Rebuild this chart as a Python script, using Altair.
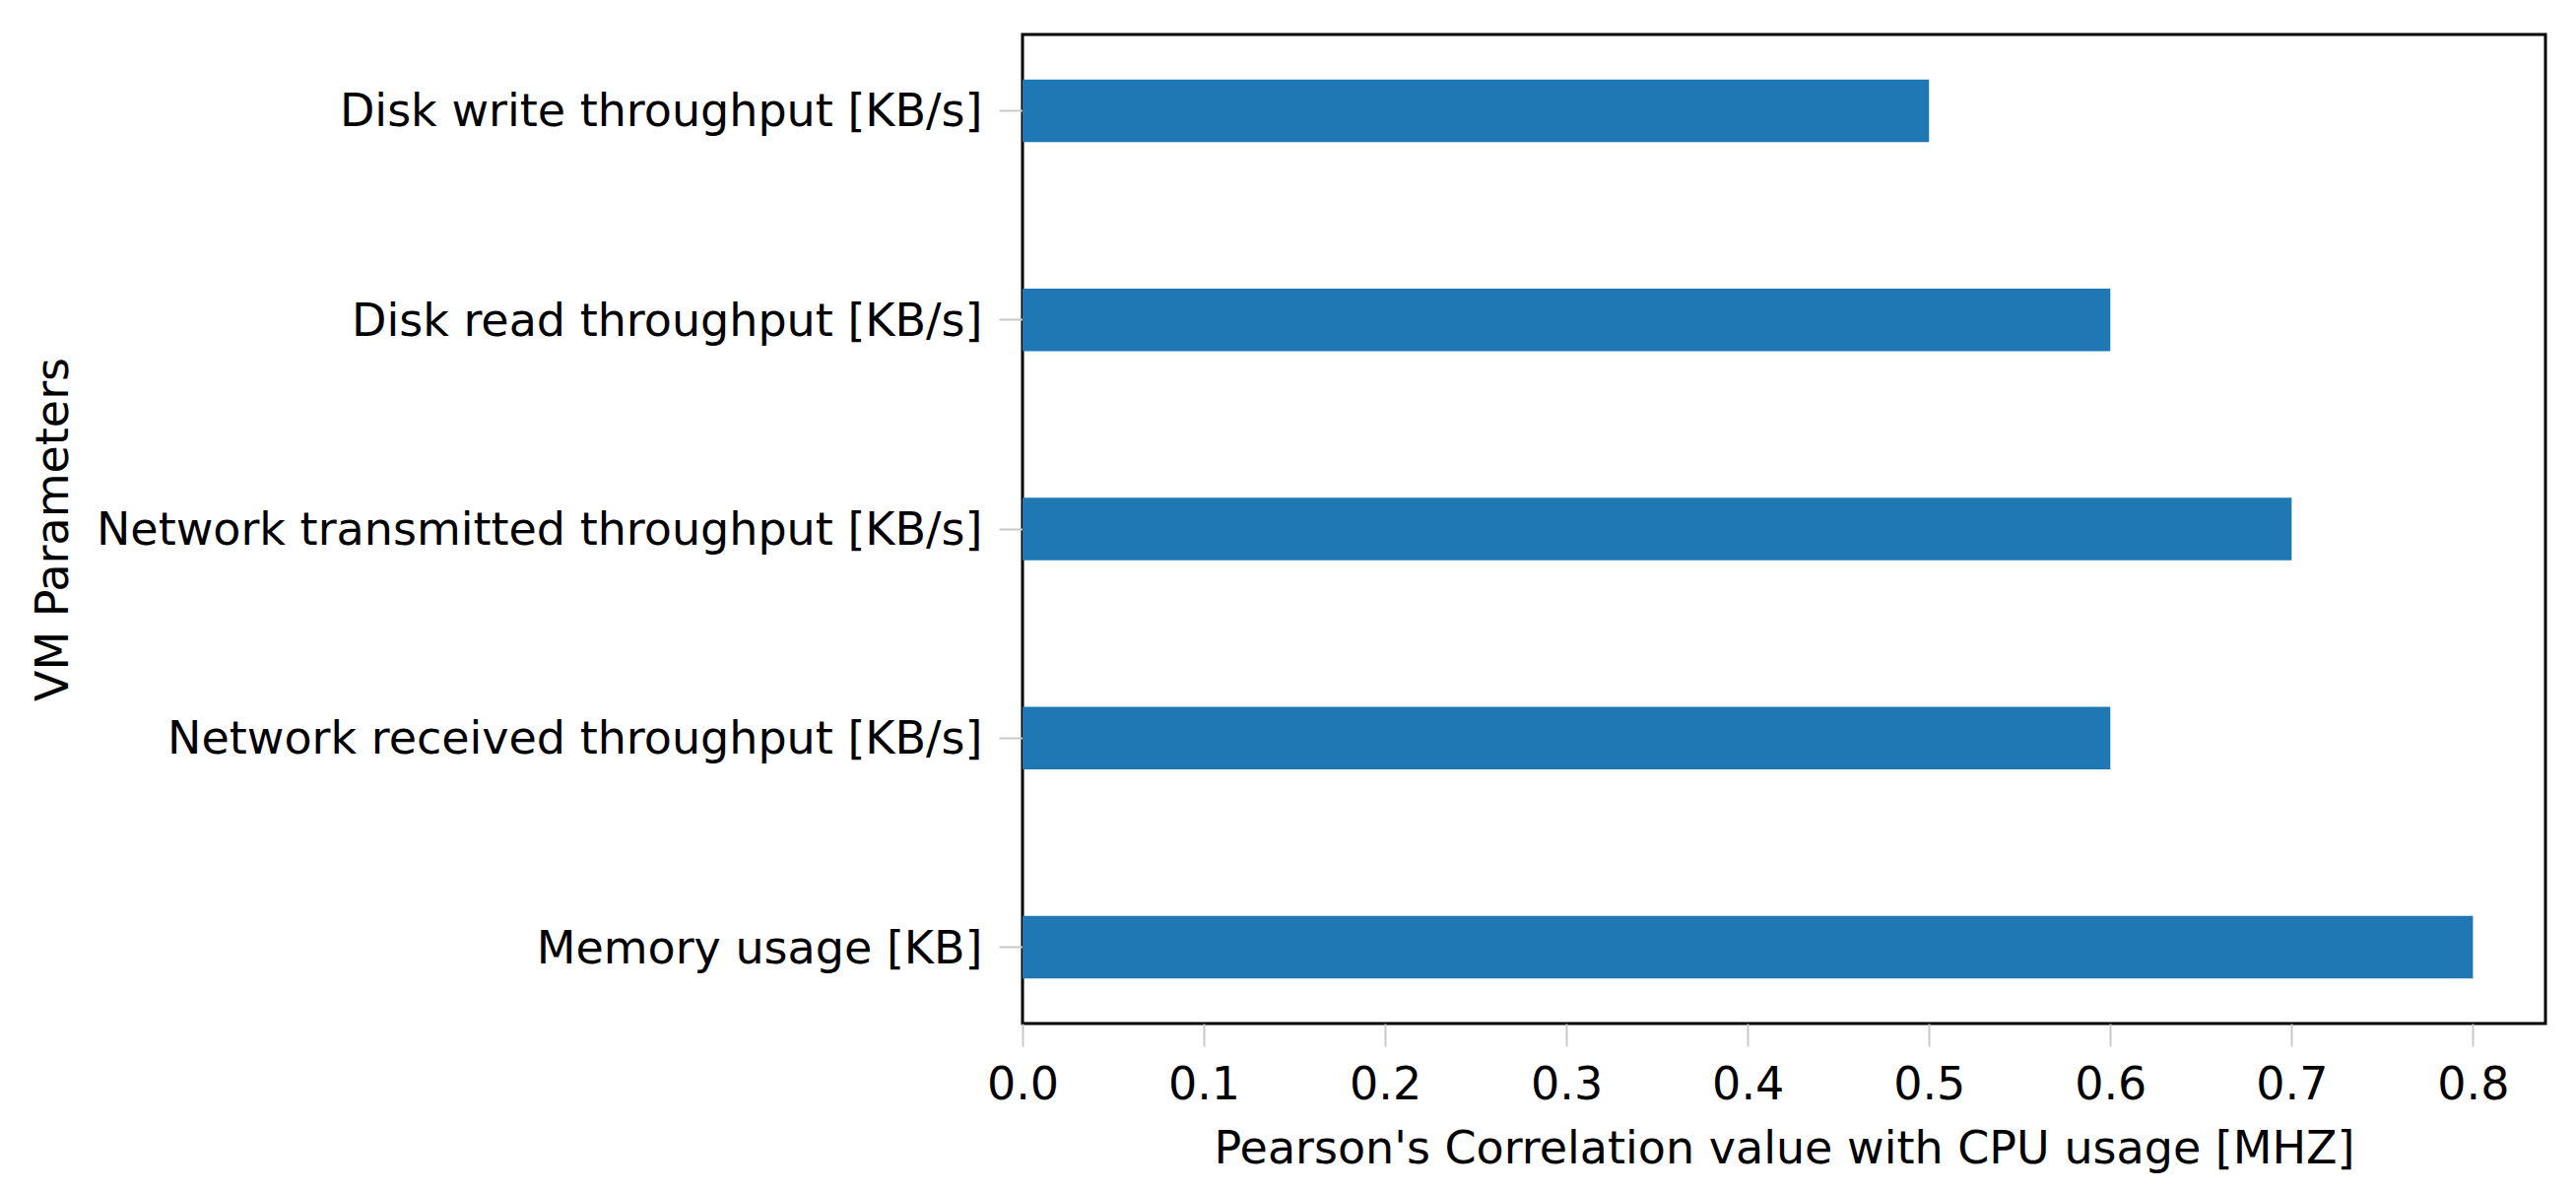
import altair as alt
import pandas as pd

params = [
    "Disk write throughput [KB/s]",
    "Disk read throughput [KB/s]",
    "Network transmitted throughput [KB/s]",
    "Network received throughput [KB/s]",
    "Memory usage [KB]",
]
values = [0.5, 0.6, 0.7, 0.6, 0.8]
x_ticks = [0.0, 0.1, 0.2, 0.3, 0.4, 0.5, 0.6, 0.7, 0.8]

df = pd.DataFrame({"param": params, "value": values})

FONT = "DejaVu Sans"
FS = 46
W, H = 1546, 1004

chart = alt.Chart(df).mark_bar(color="#1f77b4").encode(
    x=alt.X(
        "value:Q",
        title="Pearson's Correlation value with CPU usage [MHZ]",
        scale=alt.Scale(domain=[0, 0.84], nice=False, zero=True),
        axis=alt.Axis(
            values=x_ticks, format=".1f", grid=False, domain=False,
            tickSize=23, tickWidth=2, tickColor="#c8c8c8",
            labelFont=FONT, labelFontSize=FS, labelColor="black",
            labelBaseline="alphabetic", labelPadding=53, labelFlush=False,
            titleFont=FONT, titleFontSize=FS, titleFontWeight="normal",
            titleColor="black", titleBaseline="alphabetic",
            titleX=W / 2, titleY=141, titleAlign="center",
        ),
    ),
    y=alt.Y(
        "param:N",
        sort=params,
        title="VM Parameters",
        scale=alt.Scale(paddingInner=0.7, paddingOuter=0.215),
        axis=alt.Axis(
            grid=False, domain=False,
            tickSize=24, tickWidth=2, tickColor="#c8c8c8",
            labelFont=FONT, labelFontSize=FS, labelColor="black",
            labelBaseline="alphabetic", labelOffset=16, labelPadding=17,
            labelLimit=2000,
            titleFont=FONT, titleFontSize=FS, titleFontWeight="normal",
            titleColor="black", titleAngle=270, titleBaseline="alphabetic",
            titleAlign="center", titleX=-970, titleY=H / 2,
        ),
    ),
).properties(
    width=W,
    height=H,
    autosize=alt.AutoSizeParams(type="none"),
    padding={"left": 1030, "top": 27, "right": 15, "bottom": 160},
).configure(
    font=FONT, background="white"
).configure_view(
    stroke="black", strokeWidth=3
)

chart.save("out.html", embed_options={"renderer": "svg", "actions": False})
